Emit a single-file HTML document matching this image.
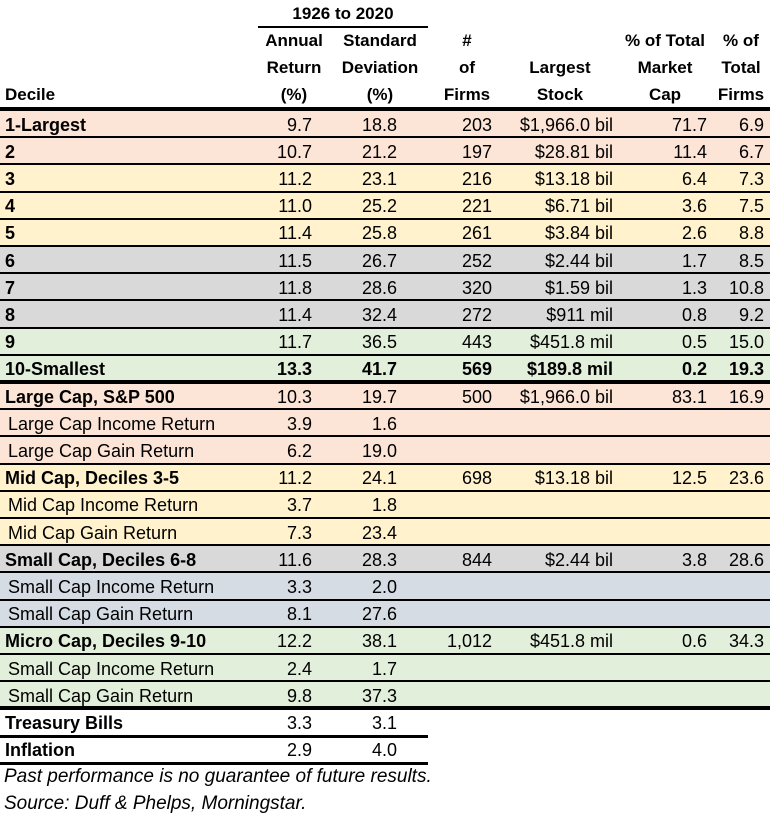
<!DOCTYPE html>
<html><head><meta charset="utf-8"><style>
body{margin:0;width:770px;height:818px;background:#fff;position:relative;overflow:hidden;font-family:"Liberation Sans",sans-serif;font-size:18px;color:#000}
.a{position:absolute;white-space:nowrap;line-height:20px}
.b{font-weight:bold}
.h{font-size:17px}
.r{position:absolute;left:0;width:770px}
.ln{position:absolute;background:#000}
</style></head><body>
<div id="root"></div>
<script>
const labels=["1-Largest","2","3","4","5","6","7","8","9","10-Smallest","Large Cap, S&P 500","Large Cap Income Return","Large Cap Gain Return","Mid Cap, Deciles 3-5","Mid Cap Income Return","Mid Cap Gain Return","Small Cap, Deciles 6-8","Small Cap Income Return","Small Cap Gain Return","Micro Cap, Deciles 9-10","Small Cap Income Return","Small Cap Gain Return","Treasury Bills","Inflation"];
const annualReturn=["9.7","10.7","11.2","11.0","11.4","11.5","11.8","11.4","11.7","13.3","10.3","3.9","6.2","11.2","3.7","7.3","11.6","3.3","8.1","12.2","2.4","9.8","3.3","2.9"];
const stdDev=["18.8","21.2","23.1","25.2","25.8","26.7","28.6","32.4","36.5","41.7","19.7","1.6","19.0","24.1","1.8","23.4","28.3","2.0","27.6","38.1","1.7","37.3","3.1","4.0"];
const firms=["203","197","216","221","261","252","320","272","443","569","500","","","698","","","844","","","1,012","","","",""];
const largest=["$1,966.0 bil","$28.81 bil","$13.18 bil","$6.71 bil","$3.84 bil","$2.44 bil","$1.59 bil","$911 mil","$451.8 mil","$189.8 mil","$1,966.0 bil","","","$13.18 bil","","","$2.44 bil","","","$451.8 mil","","","",""];
const mktCap=["71.7","11.4","6.4","3.6","2.6","1.7","1.3","0.8","0.5","0.2","83.1","","","12.5","","","3.8","","","0.6","","","",""];
const pctFirms=["6.9","6.7","7.3","7.5","8.8","8.5","10.8","9.2","15.0","19.3","16.9","","","23.6","","","28.6","","","34.3","","","",""];
const colors=["#fce4d6","#fce4d6","#fff2cc","#fff2cc","#fff2cc","#d9d9d9","#d9d9d9","#d9d9d9","#e2efda","#e2efda","#fce4d6","#fce4d6","#fce4d6","#fff2cc","#fff2cc","#fff2cc","#d9d9d9","#d6dce4","#d6dce4","#e2efda","#e2efda","#e2efda","#fff","#fff"];
const sub=[11,12,14,15,17,18,20,21];
const root=document.getElementById('root');
function txt(t,x,y,align,bold,extra){const d=document.createElement('div');d.className='a'+(bold?' b':'');d.textContent=t;d.style.top=(y-10)+'px';
 if(align==='r'){d.style.right=(770-x)+'px';}else if(align==='c'){d.style.left=(x-100)+'px';d.style.width='200px';d.style.textAlign='center';}else d.style.left=x+'px';
 if(extra)Object.assign(d.style,extra);root.appendChild(d);return d;}
function line(x,y,w,h){const d=document.createElement('div');d.className='ln';d.style.left=x+'px';d.style.top=y+'px';d.style.width=w+'px';d.style.height=h+'px';


root.appendChild(d);}
let h=txt("1926 to 2020",343,14,'c',true,{fontSize:'17px'});


line(258,26,170,2);
const hdr=[["Annual","Return","(%)",294],["Standard","Deviation","(%)",380],["#","of","Firms",467],["","Largest","Stock",560],["% of Total","Market","Cap",665],["% of","Total","Firms",741]];
hdr.forEach(c=>{[0,1,2].forEach(i=>{if(c[i]){const e=txt(c[i],c[3],41+i*27,'c',true,{fontSize:'17px'});

}});});
let dh=txt("Decile",5,95,'l',true,{fontSize:'17px'});


const top0=110,rh=27.2;
labels.forEach((lab,i)=>{
 const y=top0+i*rh;
 const bg=document.createElement('div');bg.className='r';bg.style.top=y+'px';bg.style.height=(rh+1)+'px';bg.style.background=colors[i];
 if(i>=22)bg.style.width='428px';
 
 
 root.appendChild(bg);
});
labels.forEach((lab,i)=>{
 const cy=top0+i*rh+rh/2+1;
 const isSub=sub.includes(i);const allBold=i===9;
 const l=txt(lab,isSub?8:5,cy,'l',!isSub);
 
 
 [[annualReturn,312],[stdDev,397],[firms,492],[largest,613],[mktCap,707],[pctFirms,764]].forEach(([arr,x])=>{if(arr[i]){const e=txt(arr[i],x,cy,'r',allBold);
 
 }});
});
line(0,107,770,4);
for(let i=1;i<24;i++){const y=Math.round(top0+i*rh);
 if(i===10)line(0,y-2,770,4);
 else if(i===22)line(0,y-2,770,4);
 else if(i===23)line(0,y-1,428,3);
 else line(0,y-1,770,2);}
line(0,Math.round(top0+24*rh)-1,428,3);
const f1=txt("Past performance is no guarantee of future results.",4,777,'l',false,{fontStyle:'italic',fontSize:'19px'});


const f2=txt("Source: Duff & Phelps, Morningstar.",4,804,'l',false,{fontStyle:'italic',fontSize:'19px'});


</script>
</body></html>
